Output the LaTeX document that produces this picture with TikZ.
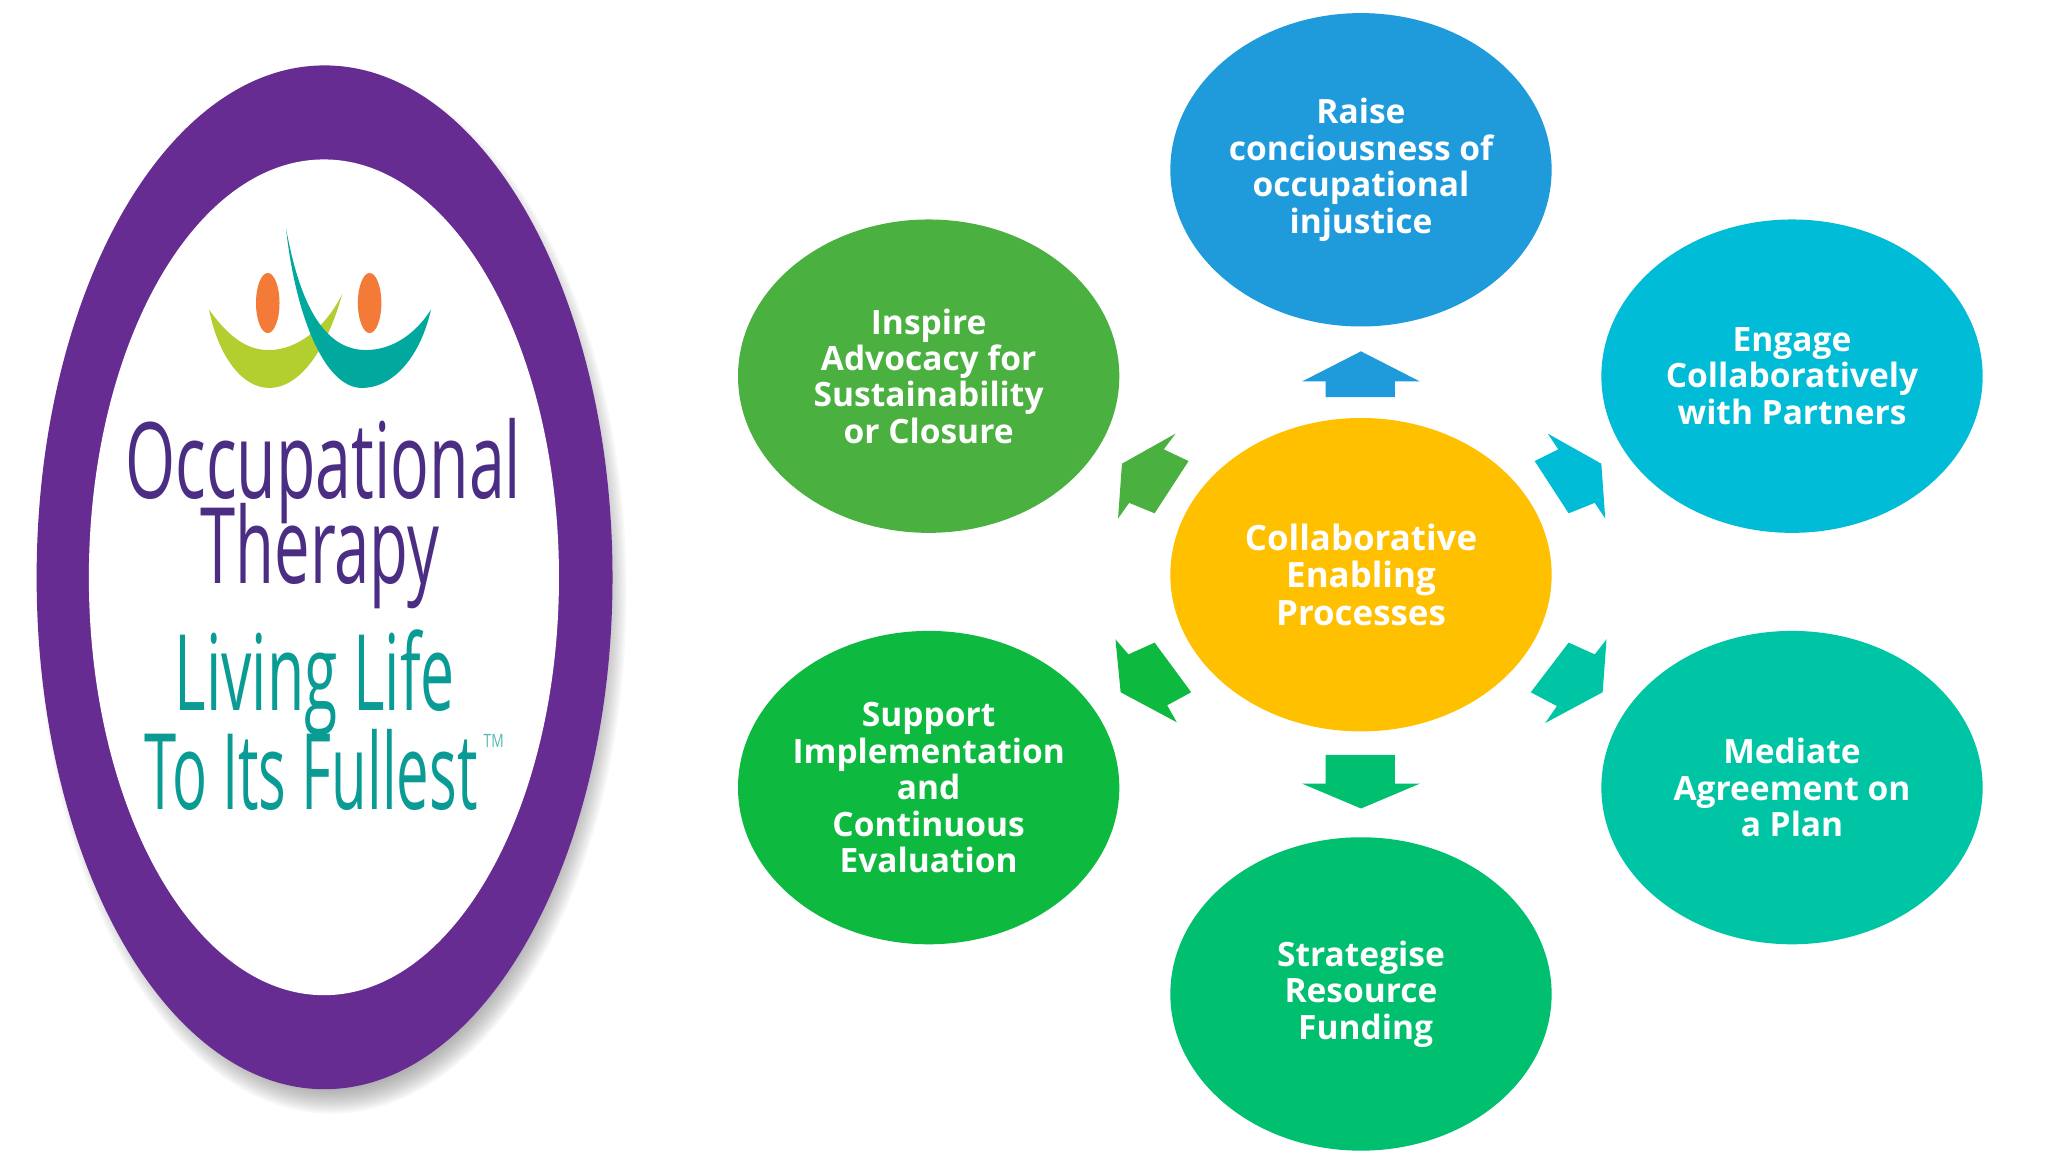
\documentclass[tikz,border=0pt]{standalone}
\usepackage{fontspec}
\usepackage{graphicx}
\setmainfont{Open Sans}
\usetikzlibrary{shapes.geometric}
\definecolor{cpurple}{HTML}{662C91}
\definecolor{ctextp}{HTML}{4B2E83}
\definecolor{cteal}{HTML}{0A9C94}
\definecolor{ctop}{HTML}{1F9BDC}
\definecolor{cmid}{HTML}{FFC000}
\definecolor{ceng}{HTML}{00BCD6}
\definecolor{cmed}{HTML}{00C5A5}
\definecolor{cbot}{HTML}{00BF6F}
\definecolor{csup}{HTML}{0DB93F}
\definecolor{cins}{HTML}{4AB040}
\definecolor{lgreen}{HTML}{B2CF2F}
\definecolor{lteal}{HTML}{00A89D}
\definecolor{lorange}{HTML}{F47A38}
\tikzset{
  bub/.style={ellipse,fill=#1,draw=none,minimum width=5.84cm,minimum height=4.8cm,inner sep=-14pt,
    text=white,align=center,font=\fontsize{14.6}{15.9}\selectfont\bfseries},
  logotext/.style={anchor=base,inner sep=0pt,font=\fontsize{46}{46}\selectfont}
}
\begin{document}
\begin{tikzpicture}[x=0.02cm,y=-0.02cm]
\useasboundingbox (0,0) rectangle (1568,882);
\fill[white] (0,0) rectangle (1568,882);
% logo shadow
\foreach \i in {0,...,11}{
  \fill[black!60,opacity=0.05] (254,453) ellipse [x radius={208+1.6*\i},y radius={382+1.6*\i}];
}
\node[ellipse,fill=cpurple,minimum width=8.82cm,minimum height=15.68cm,inner sep=0pt] (ring) at (248.5,442) {};
\node[ellipse,fill=white,minimum width=7.2cm,minimum height=12.8cm,inner sep=0pt] (hole) at (248,442) {};
% logo figures
\fill[lgreen] (160,237) .. controls (178,262) and (192,268) .. (206,268)
  .. controls (228,268) and (250,250) .. (262,225)
  .. controls (252,262) and (232,297) .. (206,297)
  .. controls (185,297) and (167,272) .. (160,237) -- cycle;
\fill[lteal] (219,175) .. controls (226,212) and (240,268) .. (280,268)
  .. controls (300,268) and (318,256) .. (330,237)
  .. controls (322,272) and (302,297) .. (277,297)
  .. controls (248,297) and (226,240) .. (219,175) -- cycle;
\node[ellipse,fill=lorange,minimum width=.36cm,minimum height=.92cm,inner sep=0pt] (eyeL) at (205,232) {};
\node[ellipse,fill=lorange,minimum width=.36cm,minimum height=.92cm,inner sep=0pt] (eyeR) at (283,232) {};
% logo text
\node[logotext,text=ctextp] (occ) at (247.5,382) {\scalebox{.61}[1]{Occupational}};
\node[logotext,text=ctextp] (ther) at (245,447) {\scalebox{.60}[1]{Therapy}};
\node[logotext,text=cteal] (liv) at (241,544) {\scalebox{.575}[1]{Living Life}};
\node[logotext,text=cteal] (full) at (238,620) {\scalebox{.55}[1]{To Its Fullest}};
\node[anchor=base,inner sep=0pt,text=cteal!70,font=\fontsize{8}{8}\selectfont] (tm) at (378,572) {\scalebox{.75}[1]{TM}};
% bubbles
\node[bub=cmid,font=\fontsize{15.2}{16.4}\selectfont\bfseries] (mid) at (1042,440) {Collaborative\\Enabling\\Processes};
\node[bub=ctop] (top) at (1042,130) {Raise\\conciousness of\\occupational\\injustice};
\node[bub=ceng] (eng) at (1372,288) {Engage\\Collaboratively\\with Partners};
\node[bub=cmed] (med) at (1372,603) {Mediate\\Agreement on\\a Plan};
\node[bub=cbot] (bot) at (1042,761) {Strategise\\Resource\\\hspace*{4pt}Funding};
\node[bub=csup] (sup) at (711,603) {Support\\Implementation\\and\\Continuous\\Evaluation};
\node[bub=cins] (ins) at (711,288) {Inspire\\Advocacy for\\Sustainability\\or Closure};
% block arrows
\fill[ctop] (1042,269) -- (1087,292) -- (1068,292) -- (1068,304) -- (1015,304) -- (1015,292) -- (997,292) -- cycle;
\fill[cbot] (1042,619) -- (1087,600) -- (1068,600) -- (1068,578) -- (1015,578) -- (1015,600) -- (997,600) -- cycle;
\fill[ceng] (1185,332) -- (1226,355) -- (1229,397) -- (1221,385) -- (1201,393) -- (1175,353) -- (1193,344) -- cycle;
\fill[cins] (900,332) -- (859,355) -- (856,397) -- (864.5,385) -- (884,393) -- (910,353) -- (891,344) -- cycle;
\fill[csup] (854,489.5) -- (864,501) -- (884,492) -- (912,530) -- (893.6,540) -- (901,553) -- (858,530) -- cycle;
\fill[cmed] (1230,489.5) -- (1221,501) -- (1201,492) -- (1172,530) -- (1192,540.6) -- (1183,553.6) -- (1227,530) -- cycle;
\end{tikzpicture}
\end{document}
